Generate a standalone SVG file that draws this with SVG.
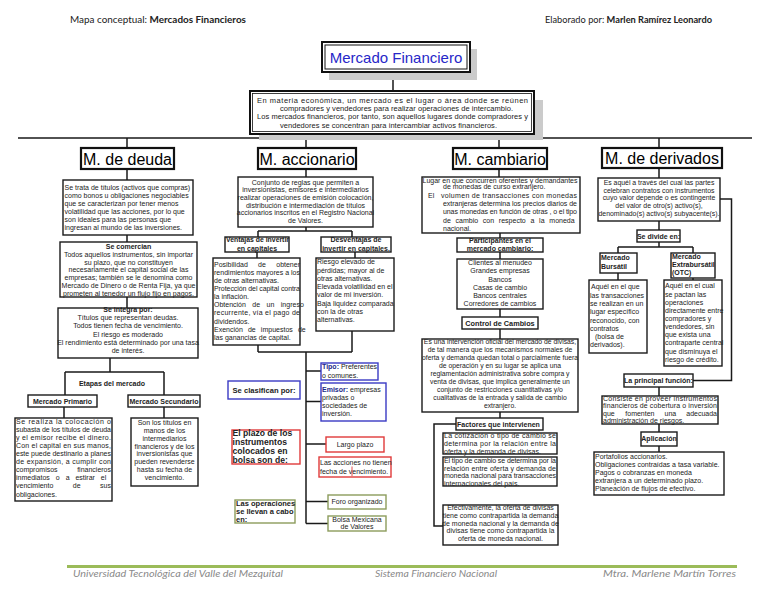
<svg xmlns="http://www.w3.org/2000/svg" width="768" height="594" viewBox="0 0 768 594">
<style>
.box{fill:#fff;stroke:#1a1a1a;stroke-width:1.4}
.tb{fill:#fff;stroke:#111;stroke-width:2.2}
.blue{fill:#fff;stroke:#3a3ac4;stroke-width:1.4}
.red{fill:#fff;stroke:#e03a3a;stroke-width:1.4}
.olive{fill:#fff;stroke:#8c9c5c;stroke-width:1.4}
.sh{fill:#cbcbcb}
.cn{fill:none;stroke:#1a1a1a;stroke-width:1.5}
text{font-family:"Liberation Sans",Arial,sans-serif;font-size:7px;fill:#222}
.b{font-weight:bold}
.m{text-anchor:middle}
.e{text-anchor:end}
.ti{font-size:16px;fill:#000;text-anchor:middle}
.mf{font-size:15px;fill:#2727c8;text-anchor:middle}
.f75{font-size:7.5px}
.f68{font-size:6.8px}
.f69{font-size:6.9px}
.f73{font-size:7.3px}
.f76{font-size:7.6px}
.f86{font-size:8.6px}
.hd{font-family:Lato,"Open Sans",sans-serif;font-size:9px;fill:#222}
.ft{font-family:Lato,"Open Sans",sans-serif;font-size:9.5px;font-style:italic;fill:#8a8a8a}
.lbl{font-weight:bold;fill:#1c2a8a}
</style>
<rect width="768" height="594" fill="#fff"/>

<g id="header">
<text class="hd" x="70" y="23" textLength="176" lengthAdjust="spacingAndGlyphs">Mapa conceptual: <tspan font-weight="bold">Mercados Financieros</tspan></text>
<text class="hd" x="545" y="23" textLength="167" lengthAdjust="spacingAndGlyphs">Elaborado por: <tspan font-weight="bold">Marlen Ramírez Leonardo</tspan></text>
</g>

<g id="connectors">
<path class="cn" d="M393 72V92M18 138H752M127 138V148M306 138V148M499 138V148M659 138V148"/>
<path class="cn" d="M127 169V180M127 235V242M127 297V308M110 358V372M65 372H164M65 372V395M164 372V395M64 407V418M164 407V418"/>
<path class="cn" d="M306 169V177M306 227V231M258 231H352M258 231V237M352 231V237M257 252V258M355 252V258M258 345V352M352 331V352M258 352H352M306 352V523.5M306 371H321M306 401.5H321M306 444H326M306 501.5H328M306 523.5H328"/>
<path class="cn" d="M499 169V177M500 233V238M500 252V259M500 309V317M500 329V339M500 412V418M456 424H434V526H443"/>
<path class="cn" d="M659 168V178M659 221V230M720 199H731.5V380.5H693M659 242V247M618 247H693M618 247V253M693 247V253M618 273V280M693 278V280M659 387V396M659 424V432M659 446V452"/>
</g>

<g id="mercado-financiero">
<rect class="sh" x="329" y="49" width="148" height="31"/>
<rect x="322" y="42" width="148" height="30" fill="#fff" stroke="#111" stroke-width="2"/>
<rect x="325" y="45" width="142" height="24" fill="none" stroke="#111" stroke-width="1"/>
<text class="mf" x="396" y="63">Mercado Financiero</text>
</g>

<g id="definicion">
<rect class="sh" x="259" y="100" width="284" height="40"/>
<rect x="250" y="91" width="284" height="43" fill="#fff" stroke="#111" stroke-width="2"/>
<rect x="252.5" y="93.5" width="279" height="38" fill="none" stroke="#111" stroke-width="0.8"/>
<text class="f75" x="257" y="102.8" textLength="271" lengthAdjust="spacing">En materia económica, un mercado es el lugar o área donde se reúnen</text>
<text class="f75" x="280" y="111" textLength="233" lengthAdjust="spacing">compradores y vendedores para realizar operaciones de intercambio.</text>
<text class="f75" x="257" y="119.4" textLength="271" lengthAdjust="spacing">Los mercados financieros, por tanto, son aquellos lugares donde compradores y</text>
<text class="f75" x="280" y="128" textLength="217" lengthAdjust="spacing">vendedores se concentran para intercambiar activos financieros.</text>
</g>

<!-- Column 1 -->
<g id="m-deuda">
<rect class="tb" x="81" y="148" width="93" height="21"/>
<text class="ti" x="127.5" y="164.5">M. de deuda</text>
</g>
<g id="deuda-def">
<rect class="box" x="63" y="180" width="130" height="55"/>
<text x="64.5" y="189.5">Se trata de títulos (activos que compras)</text>
<text x="64.5" y="197.5">como bonos u obligaciones negociables</text>
<text x="64.5" y="205.5">que se caracterizan por tener menos</text>
<text x="64.5" y="213.5">volatilidad que las acciones, por lo que</text>
<text x="64.5" y="221.5">son ideales para las personas que</text>
<text x="64.5" y="229.5">ingresan al mundo de las inversiones.</text>
</g>
<g id="se-comercian">
<rect class="box" x="60" y="242" width="137" height="55"/>
<text class="b m" x="128.5" y="249">Se comercian</text>
<text class="m" x="128.5" y="256.8">Todos aquellos instrumentos, sin importar</text>
<text class="m" x="128.5" y="264.6">su plazo, que no constituyen</text>
<text class="m" x="128.5" y="272.4">necesariamente el capital social de las</text>
<text class="m" x="128.5" y="280.2">empresas; también se le denomina como</text>
<text class="m" x="128.5" y="288">Mercado de Dinero o de Renta Fija, ya que</text>
<text class="m" x="128.5" y="295.8">prometen al tenedor un flujo fijo en pagos.</text>
</g>
<g id="se-integra">
<rect class="box" x="58" y="308" width="140" height="50"/>
<text class="b m" x="128" y="311.5">Se integra por:</text>
<text class="m" x="128" y="320">Títulos que representan deudas.</text>
<text class="m" x="128" y="328.3">Todos tienen fecha de vencimiento.</text>
<text class="m" x="128" y="336.6">El riesgo es moderado</text>
<text class="m" x="128" y="345">El rendimiento está determinado por una tasa</text>
<text class="m" x="128" y="353.3">de interés.</text>
</g>
<g id="etapas">
<text class="b m" x="112" y="386">Etapas del mercado</text>
</g>
<g id="mercado-primario">
<rect class="box" x="28" y="395" width="69" height="12"/>
<text class="b m" x="62.5" y="403.6">Mercado Primario</text>
</g>
<g id="mercado-secundario">
<rect class="box" x="128" y="395" width="72" height="12"/>
<text class="b m" x="164" y="403.6" textLength="69" lengthAdjust="spacingAndGlyphs">Mercado Secundario</text>
</g>
<g id="primario-def">
<rect class="box" x="15" y="418" width="97" height="83"/>
<text x="16" y="423.6" textLength="95" lengthAdjust="spacing">Se realiza la colocación o</text>
<text x="16" y="431.7" textLength="95" lengthAdjust="spacing">subasta de los títulos de deuda</text>
<text x="16" y="439.8" textLength="95" lengthAdjust="spacing">y el emisor recibe el dinero.</text>
<text x="16" y="447.9" textLength="95" lengthAdjust="spacing">Con el capital en sus manos,</text>
<text x="16" y="456" textLength="95" lengthAdjust="spacing">este puede destinarlo a planes</text>
<text x="16" y="464.1" textLength="95" lengthAdjust="spacing">de expansión, a cumplir con</text>
<text x="16" y="472.2">compromisos</text>
<text class="e" x="111" y="472.2">financieros</text>
<text x="16" y="480.3" word-spacing="4">inmediatos o a estirar el</text>
<text x="16" y="488.4">vencimiento</text>
<text class="m" x="76.7" y="488.4">de</text>
<text class="e" x="111" y="488.4">sus</text>
<text x="16" y="496.5">obligaciones.</text>
</g>
<g id="secundario-def">
<rect class="box" x="131" y="418" width="67" height="68"/>
<text class="m" x="164.5" y="425.3">Son los títulos en</text>
<text class="m" x="164.5" y="433">manos de los</text>
<text class="m" x="164.5" y="440.8">intermediarios</text>
<text class="m" x="164.5" y="448.5">financieros y de los</text>
<text class="m" x="164.5" y="456.3">inversionistas que</text>
<text class="m" x="164.5" y="464">pueden revenderse</text>
<text class="m" x="164.5" y="471.8">hasta su fecha de</text>
<text class="m" x="164.5" y="479.5">vencimiento.</text>
</g>

<!-- Column 2 -->
<g id="m-accionario">
<rect class="tb" x="258" y="148" width="98" height="21"/>
<text class="ti" x="307" y="164.5">M. accionario</text>
</g>
<g id="accionario-def">
<rect class="box" x="238" y="177" width="135" height="50"/>
<text class="m" x="305.5" y="184.5">Conjunto de reglas que permiten a</text>
<text class="m" x="305.5" y="192.2">inversionistas, emisores e intermediarios</text>
<text class="m" x="305.5" y="199.9">realizar operaciones de emisión colocación,</text>
<text class="m" x="305.5" y="207.6">distribución e intermediación de títulos</text>
<text class="m" x="305.5" y="215.3">accionarios inscritos en el  Registro Nacional</text>
<text class="m" x="305.5" y="223">de Valores.</text>
</g>
<g id="ventajas">
<rect class="box" x="225" y="237" width="64" height="15"/>
<text class="b" x="226" y="242" textLength="63" lengthAdjust="spacingAndGlyphs">Ventajas de invertir</text>
<text class="b m" x="257" y="250.5">en capitales</text>
</g>
<g id="desventajas">
<rect class="box" x="321" y="237" width="70" height="15"/>
<text class="b m" x="356" y="242">Desventajas de</text>
<text class="b m" x="356" y="250.5">invertir en capitales.</text>
</g>
<g id="ventajas-list">
<rect class="box" x="213" y="258" width="87" height="87"/>
<text x="214" y="266.5">Posibilidad</text>
<text x="258" y="266.5">de</text>
<text class="e" x="300" y="266.5">obtener</text>
<text x="214" y="274.6" textLength="86" lengthAdjust="spacing">rendimientos mayores a los</text>
<text x="214" y="282.8">de otras alternativas.</text>
<text x="214" y="290.9" textLength="86" lengthAdjust="spacing">Protección del capital contra</text>
<text x="214" y="299.1">la inflación.</text>
<text x="214" y="307.2" word-spacing="4.5">Obtención de un ingreso</text>
<text x="214" y="315.4" textLength="86" lengthAdjust="spacing">recurrente, vía el pago de</text>
<text x="214" y="323.5">dividendos.</text>
<text x="214" y="331.7" word-spacing="3.2">Exención de impuestos de</text>
<text x="214" y="339.8">las ganancias de capital.</text>
</g>
<g id="desventajas-list">
<rect class="box" x="316" y="258" width="78" height="73"/>
<text x="317" y="264.3">Riesgo elevado de</text>
<text x="317" y="272.6">pérdidas; mayor al de</text>
<text x="317" y="280.8">otras alternativas.</text>
<text x="317" y="289.1">Elevada volatilidad  en el</text>
<text x="317" y="297.4">valor de mi inversión.</text>
<text x="317" y="305.6">Baja liquidez comparada</text>
<text x="317" y="313.9">con la de otras</text>
<text x="317" y="322.2">alternativas.</text>
</g>
<g id="se-clasifican">
<rect class="blue" x="228" y="381" width="72" height="18"/>
<text class="b m f76" x="264" y="392.5">Se clasifican por:</text>
</g>
<g id="tipo">
<rect class="blue" x="321" y="363" width="57" height="17"/>
<text x="322" y="369"><tspan class="lbl">Tipo:</tspan> Preferentes</text>
<text x="322" y="377.5">o comunes.</text>
</g>
<g id="emisor">
<rect class="blue" x="321" y="383" width="65" height="38"/>
<text x="322" y="392"><tspan class="lbl">Emisor:</tspan> empresas</text>
<text x="322" y="400.2">privadas o</text>
<text x="322" y="408.4">sociedades  de</text>
<text x="322" y="416.4">inversión.</text>
</g>
<g id="plazo">
<rect class="red" x="232" y="430" width="68" height="34"/>
<text class="b f86" x="232.5" y="435.7">El plazo de los</text>
<text class="b f86" x="232.5" y="444.7">instrumentos</text>
<text class="b f86" x="232.5" y="453.7">colocados en</text>
<text class="b f86" x="232.5" y="462.7">bolsa son de:</text>
</g>
<g id="largo-plazo">
<rect class="red" x="326" y="437" width="58" height="15"/>
<text class="m" x="355" y="446.8">Largo plazo</text>
</g>
<g id="sin-vencimiento">
<rect class="red" x="319" y="457" width="72" height="20"/>
<text x="320" y="465.3">Las acciones no tienen</text>
<text x="320" y="473.6">fecha  de vencimiento.</text>
<line x1="352" y1="466.5" x2="352" y2="476" stroke="#e03a3a" stroke-width="0.9"/>
</g>
<g id="operaciones">
<rect class="olive" x="235" y="500" width="60" height="23"/>
<text class="b f75" x="236" y="505.5">Las operaciones</text>
<text class="b f75" x="236" y="513.5">se llevan a cabo</text>
<text class="b f75" x="236" y="521.6">en:</text>
</g>
<g id="foro">
<rect class="olive" x="328" y="495" width="58" height="14"/>
<text class="m" x="357" y="504.3">Foro organizado</text>
</g>
<g id="bmv">
<rect class="olive" x="328" y="516" width="58" height="15"/>
<text class="m" x="357" y="521.6">Bolsa Mexicana</text>
<text class="m" x="357" y="529.3">de Valores</text>
</g>

<!-- Column 3 -->
<g id="m-cambiario">
<rect class="tb" x="453" y="148" width="94" height="21"/>
<text class="ti" x="500" y="164.5">M. cambiario</text>
</g>
<g id="cambiario-def">
<rect class="box" x="422" y="177" width="158" height="56"/>
<text x="422.5" y="182.6" textLength="155" lengthAdjust="spacing">Lugar en que concurren oferentes y demandantes</text>
<text x="443" y="189.3">de monedas de curso extranjero.</text>
<text x="428" y="197.6">El</text>
<text x="441" y="197.6" textLength="136" lengthAdjust="spacing">volumen de transacciones con monedas</text>
<text x="443" y="206" textLength="134" lengthAdjust="spacing">extranjeras determina los precios diarios de</text>
<text x="443" y="214.3" textLength="134" lengthAdjust="spacing">unas monedas en función de otras , o el tipo</text>
<text x="443" y="222.6" word-spacing="2.8">de cambio con respecto a la moneda</text>
<text x="443" y="230.5">nacional.</text>
</g>
<g id="participantes">
<rect class="box" x="457" y="238" width="86" height="14"/>
<text class="b m" x="500" y="242.6">Participantes en el</text>
<text class="b m" x="500" y="250.9">mercado cambiario:</text>
</g>
<g id="participantes-list">
<rect class="box" x="457" y="259" width="86" height="50"/>
<text class="m" x="500" y="264.9">Clientes al menudeo</text>
<text class="m" x="500" y="273.2">Grandes empresas</text>
<text class="m" x="500" y="281.5">Bancos</text>
<text class="m" x="500" y="289.8">Casas de cambio</text>
<text class="m" x="500" y="298.1">Bancos centrales</text>
<text class="m" x="500" y="306.4">Corredores de cambios</text>
</g>
<g id="control">
<rect class="box" x="462" y="317" width="76" height="12"/>
<text class="b m f73" x="500" y="325.5">Control de Cambios</text>
</g>
<g id="control-def">
<rect class="box" x="422" y="339" width="156" height="73"/>
<text class="m f68" x="500" y="344.3">Es una intervención oficial del mercado de divisas,</text>
<text class="m f68" x="500" y="352.2">de tal manera que los mecanismos normales de</text>
<text class="m f68" x="500" y="360.1">oferta y demanda quedan total o parcialmente fuera</text>
<text class="m f68" x="500" y="368">de operación y en su lugar se aplica una</text>
<text class="m f68" x="500" y="375.9">reglamentación administrativa sobre compra y</text>
<text class="m f68" x="500" y="383.8">venta de divisas, que implica generalmente un</text>
<text class="m f68" x="500" y="391.7">conjunto de restricciones cuantitativas y/o</text>
<text class="m f68" x="500" y="399.6">cualitativas de la entrada y salida de cambio</text>
<text class="m f68" x="500" y="407.5">extranjero.</text>
</g>
<g id="factores">
<rect class="box" x="456" y="418" width="87" height="12"/>
<text class="b" x="457" y="426.5">Factores que intervienen</text>
</g>
<g id="factor-1">
<rect class="box" x="443" y="433" width="114" height="21"/>
<text x="444" y="438.3" textLength="112" lengthAdjust="spacing">La cotización o tipo de cambio se</text>
<text x="444" y="446" textLength="112" lengthAdjust="spacing">determina por la relación entre la</text>
<text x="444" y="453.6">oferta y la demanda de divisas.</text>
</g>
<g id="factor-2">
<rect class="box" x="443" y="457" width="114" height="29"/>
<text x="444" y="463" textLength="112" lengthAdjust="spacing">El tipo de cambio se determina por la</text>
<text x="444" y="470.6" textLength="112" lengthAdjust="spacing">relación entre oferta y demanda de</text>
<text x="444" y="478.2" textLength="112" lengthAdjust="spacing">moneda nacional para transacciones</text>
<text x="444" y="485.6">internacionales del país.</text>
</g>
<g id="factor-3">
<rect class="box" x="443" y="505" width="115" height="40"/>
<text class="m" x="500.5" y="510.3">Efectivamente, la oferta de divisas</text>
<text class="m" x="500.5" y="518">tiene como contrapartida la demanda</text>
<text class="m" x="500.5" y="525.7">de moneda nacional y la demanda de</text>
<text class="m" x="500.5" y="533.4">divisas tiene como contrapartida la</text>
<text class="m" x="500.5" y="541.1">oferta de moneda nacional.</text>
</g>

<!-- Column 4 -->
<g id="m-derivados">
<rect class="tb" x="602" y="148" width="120" height="20"/>
<text class="ti" x="662" y="164">M. de derivados</text>
</g>
<g id="derivados-def">
<rect class="box" x="598" y="178" width="122" height="43"/>
<text class="m f69" x="659" y="185">Es aquél a través del cual las partes</text>
<text class="m f69" x="659" y="192.7">celebran contratos con instrumentos</text>
<text class="m f69" x="659" y="200.3">cuyo valor depende o es contingente</text>
<text class="m f69" x="659" y="208">del valor de otro(s) activo(s),</text>
<text class="m f69" x="659" y="215.8">denominado(s) activo(s) subyacente(s).</text>
</g>
<g id="se-divide">
<rect class="box" x="637" y="230" width="43" height="12"/>
<text class="b m" x="658.5" y="238.5">Se divide en:</text>
</g>
<g id="bursatil">
<rect class="box" x="600" y="253" width="37" height="20"/>
<text class="b" x="601" y="260.3">Mercado</text>
<text class="b" x="601" y="268.6">Bursátil</text>
</g>
<g id="otc">
<rect class="box" x="671" y="253" width="44" height="25"/>
<text class="b" x="672" y="258.5">Mercado</text>
<text class="b" x="672" y="266.7">Extrabursátil</text>
<text class="b" x="672" y="274.9">(OTC)</text>
</g>
<g id="bursatil-def">
<rect class="box" x="589" y="280" width="58" height="73"/>
<text x="591" y="289.3">Aquél en el que</text>
<text x="590" y="297.6">las transacciones</text>
<text x="590" y="305.9">se realizan en un</text>
<text x="590" y="314.2">lugar específico</text>
<text x="590" y="322.5">reconocido, con</text>
<text x="590" y="330.8">contratos</text>
<text x="595" y="339.1">(bolsa de</text>
<text x="590" y="347.4">derivados).</text>
</g>
<g id="otc-def">
<rect class="box" x="664" y="280" width="58" height="86"/>
<text x="665" y="288.3">Aquél en el cual</text>
<text x="665" y="296.5">se pactan las</text>
<text x="665" y="304.6">operaciones</text>
<text x="665" y="312.8">directamente entre</text>
<text x="665" y="320.9">compradores y</text>
<text x="665" y="329.1">vendedores, sin</text>
<text x="665" y="337.2">que exista una</text>
<text x="665" y="345.4">contraparte central</text>
<text x="665" y="353.5">que disminuya el</text>
<text x="665" y="361.7">riesgo de crédito.</text>
</g>
<g id="principal-funcion">
<rect class="box" x="624" y="374" width="69" height="13"/>
<text class="b m" x="658.5" y="383.3">La principal función:</text>
</g>
<g id="funcion-def">
<rect class="box" x="602" y="396" width="116" height="28"/>
<text x="603" y="401" textLength="114" lengthAdjust="spacing">Consiste en proveer instrumentos</text>
<text x="603" y="408.3" textLength="114" lengthAdjust="spacing">financieros de cobertura o inversión</text>
<text x="603" y="415.6">que</text>
<text x="625.3" y="415.6">fomenten</text>
<text x="664.5" y="415.6">una</text>
<text class="e" x="717" y="415.6">adecuada</text>
<text x="603" y="422.9">administración de riesgos.</text>
</g>
<g id="aplicacion">
<rect class="box" x="641" y="432" width="36" height="14"/>
<text class="b m" x="659" y="441">Aplicación</text>
</g>
<g id="aplicacion-list">
<rect class="box" x="594" y="452" width="130" height="43"/>
<text x="595" y="458.6">Portafolios  accionarios.</text>
<text x="595" y="466.7">Obligaciones contraídas a tasa  variable.</text>
<text x="595" y="474.8">Pagos o cobranzas en moneda</text>
<text x="595" y="482.9">extranjera  a un determinado plazo.</text>
<text x="595" y="491">Planeación de flujos de efectivo.</text>
</g>

<g id="footer">
<rect x="67" y="565" width="670" height="3" fill="#9bbb59"/>
<text class="ft" x="73" y="577" textLength="210" lengthAdjust="spacingAndGlyphs">Universidad Tecnológica del Valle del Mezquital</text>
<text class="ft" x="375" y="577" textLength="122" lengthAdjust="spacingAndGlyphs">Sistema Financiero Nacional</text>
<text class="ft" x="603" y="577" textLength="133" lengthAdjust="spacingAndGlyphs">Mtra. Marlene Martín Torres</text>
</g>
</svg>
